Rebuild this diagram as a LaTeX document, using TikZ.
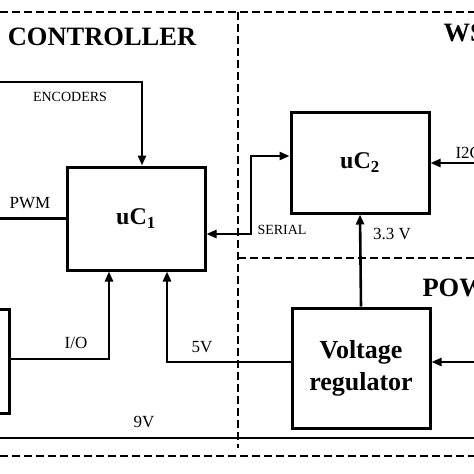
\documentclass[tikz,border=0pt]{standalone}
\usepackage{fontspec}
\setmainfont{Liberation Serif}
\usetikzlibrary{arrows.meta}
\begin{document}
\begin{tikzpicture}[x=1pt,y=-1pt,
  block/.style={shape=rectangle,draw=black,line width=3pt,inner sep=0pt,font=\fontsize{24}{26}\selectfont\bfseries},
  wire/.style={line width=2.6pt},
  zone/.style={dash pattern=on 8pt off 4pt,line width=1.4pt},
  zonename/.style={font=\fontsize{26.5}{30}\selectfont\bfseries},
  sig/.style={font=\fontsize{17}{19}\selectfont},
  bus/.style={font=\fontsize{14}{16}\selectfont},
  >={Triangle[length=10pt,width=8pt]}]
  \useasboundingbox (0,0) rectangle (474,474);
  \clip (0,0) rectangle (474,474);
  % zones
  \draw[zone] (0,12) -- (474,12);
  \draw[zone] (238,12) -- (238,448);
  \draw[zone] (238,258) -- (474,258);
  \draw[zone] (0,456) -- (474,456);
  \node[zonename] (ctrl) at (102,37) {CONTROLLER};
  \node[zonename,anchor=west] (ws) at (440,33) {WS};
  \node[zonename,anchor=west] (pow) at (419,288) {POW};
  % blocks
  \node[block,minimum width=138pt,minimum height=103pt] (uC1) at (136,218.5) {uC\textsubscript{1}};
  \node[block,minimum width=138pt,minimum height=101pt] (uC2) at (360,162.5) {uC\textsubscript{2}};
  \node[block,minimum width=138pt,minimum height=120pt,align=center,font=\fontsize{26}{32}\selectfont\bfseries] (reg) at (361,368) {Voltage\\regulator};
  \node[block,minimum width=68pt,minimum height=104pt] (drv) at (-25,361) {};
  % wire corners
  \coordinate (encin) at (-10,82);
  \coordinate (enc) at (142,82);
  \coordinate (pwmin) at (-10,218.5);
  \coordinate (io) at (109,359);
  \coordinate (v5) at (167,362);
  \coordinate (serA) at (251,234);
  \coordinate (serB) at (251,156);
  \coordinate (i2c) at (490,163);
  \coordinate (vin) at (490,362);
  \coordinate (v9a) at (-10,438);
  \coordinate (v9b) at (490,438);
  % wires
  \draw[wire,->] (encin) -- (enc) -- (enc |- uC1.north);
  \draw[wire] (pwmin) -- (uC1.west);
  \draw[wire,->] (drv.east |- io) -- (io) -- (io |- uC1.south);
  \draw[wire,->] (reg.west |- v5) -- (v5) -- (v5 |- uC1.south);
  \draw[wire,<->] (uC1.east |- serA) -- (serA) -- (serB) -- (uC2.west |- serB);
  \draw[wire,->] (i2c) -- (uC2.east |- i2c);
  \draw[wire,->] (reg.north) -- (uC2.south);
  \draw[wire,->] (vin) -- (reg.east |- vin);
  \draw[wire] (v9a) -- (v9b);
  % labels
  \node[bus] (lenc) at (70,97) {ENCODERS};
  \node[sig] (lpwm) at (30,203) {PWM};
  \node[sig] (lio) at (76,343) {I/O};
  \node[sig] (l5v) at (202,347) {5V};
  \node[sig] (l9v) at (144,422) {9V};
  \node[bus] (lser) at (282,230) {SERIAL};
  \node[sig] (l33) at (392,234) {3.3 V};
  \node[sig,anchor=west] (li2c) at (452,153) {I2C};
\end{tikzpicture}
\end{document}
